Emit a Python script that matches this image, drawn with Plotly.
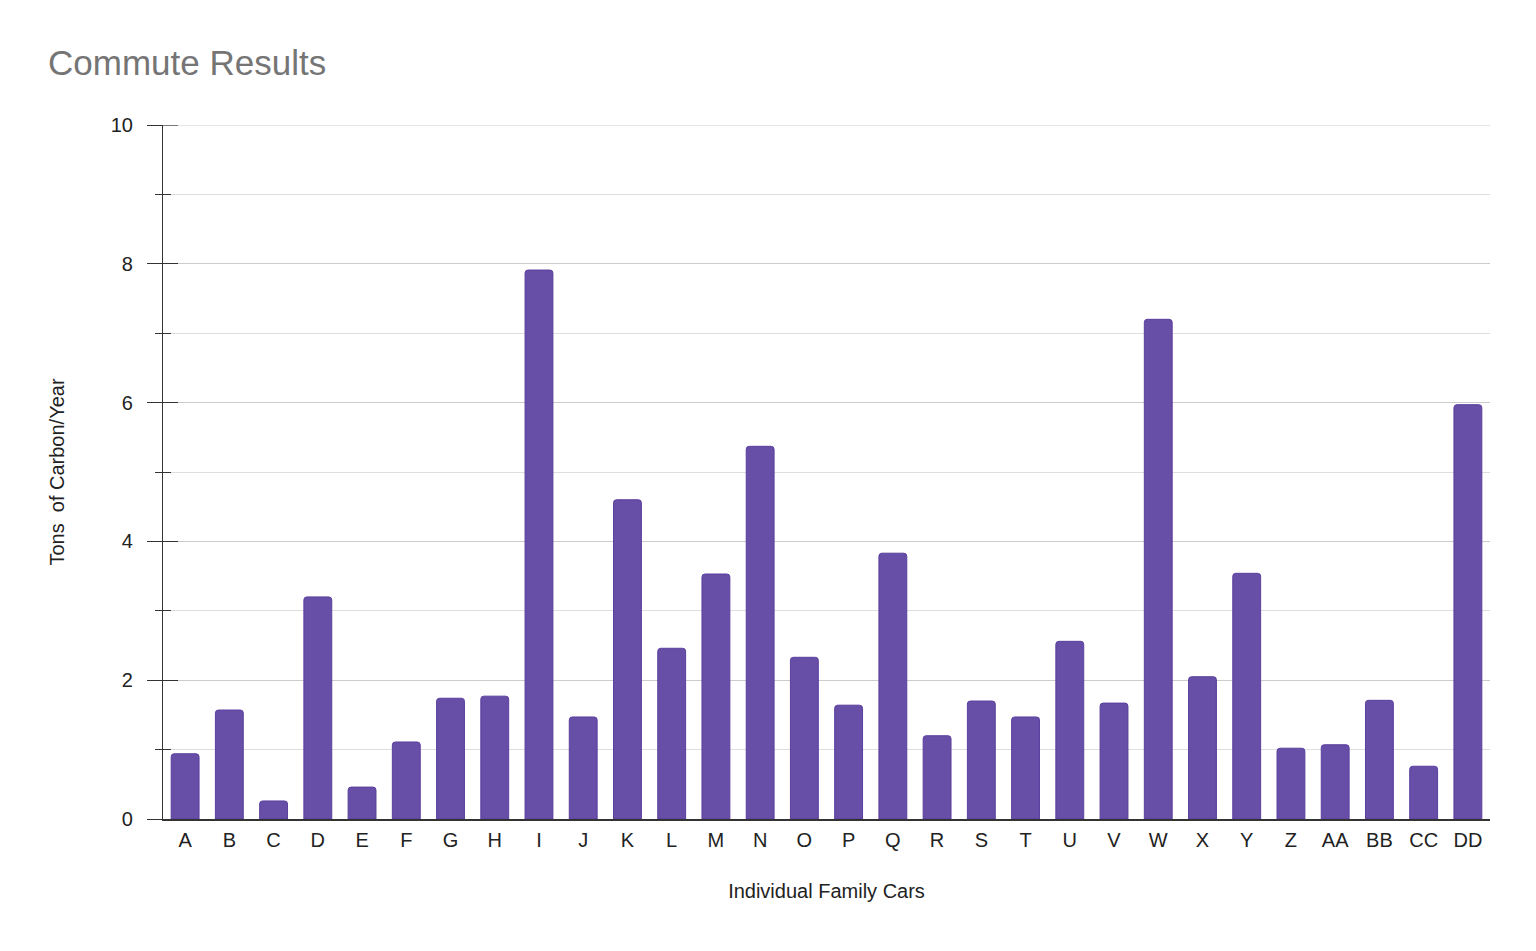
import plotly.graph_objects as go

categories = ["A","B","C","D","E","F","G","H","I","J","K","L","M","N","O","P","Q","R","S","T",
              "U","V","W","X","Y","Z","AA","BB","CC","DD"]
values = [0.94,1.57,0.26,3.20,0.46,1.11,1.74,1.77,7.91,1.47,4.60,2.46,3.53,5.37,2.33,1.64,3.83,1.20,1.70,1.47,
          2.56,1.67,7.20,2.05,3.54,1.02,1.07,1.71,0.76,5.97]
y_ticks = [0, 2, 4, 6, 8, 10]

font = "Liberation Sans, Arial, sans-serif"
fig = go.Figure()
fig.add_trace(go.Bar(x=categories, y=values,
                     marker=dict(color="#674ea7", line=dict(color="#5b3f9e", width=1), cornerradius=3),
                     hoverinfo="x+y"))
# invisible helper trace so the overlay axis (inward ticks) is drawn
fig.add_trace(go.Scatter(x=[categories[0]], y=[0], yaxis="y2", mode="lines",
                         line=dict(width=0), showlegend=False, hoverinfo="skip"))

# page has an 8px body margin, so figure is 8px smaller than the window
W, H = 1520, 935
ml, mr = 155, 38
plot_w = W - ml - mr

# gridline at the top of the range (plotly skips grid at the exact edge) and the inward top tick
fig.add_shape(type="line", xref="paper", x0=0, x1=1, yref="y", y0=y_ticks[-1], y1=y_ticks[-1],
              line=dict(color="#cccccc", width=1), layer="below")
fig.add_shape(type="line", xref="paper", x0=0, x1=15 / plot_w, yref="y", y0=y_ticks[-1], y1=y_ticks[-1],
              line=dict(color="#333333", width=1.2), layer="above")

fig.update_layout(
    width=W, height=H,
    margin=dict(l=ml, r=mr, t=117, b=124),
    paper_bgcolor="white", plot_bgcolor="white",
    showlegend=False, bargap=0.37,
    font=dict(family=font, size=20, color="#222222"),
    title=dict(text="Commute Results", x=40/W, xanchor="left", y=1-55/H, yanchor="middle",
               font=dict(family=font, size=35, color="#757575")),
    xaxis=dict(range=[-0.5, len(categories) - 0.5], showline=True, linecolor="#333333", linewidth=1.5,
               ticks="", showgrid=False,
               tickfont=dict(size=20, color="#222222"), ticklabelstandoff=2,
               title=dict(text="Individual Family Cars", standoff=34, font=dict(size=20, color="#222222"))),
    yaxis=dict(range=[0, 10], tickvals=y_ticks, showline=True, linecolor="#333333", linewidth=1.2,
               ticks="outside", ticklen=15, tickcolor="#333333", tickwidth=1.2,
               showgrid=True, gridcolor="#cccccc", gridwidth=1, zeroline=False,
               minor=dict(dtick=1, ticks="outside", ticklen=7, tickcolor="#333333", showgrid=True,
                          gridcolor="#dedede", gridwidth=1),
               tickfont=dict(size=20, color="#222222"), ticklabelstandoff=10,
               title=dict(text="Tons  of Carbon/Year", standoff=40, font=dict(size=20, color="#222222"))),
    yaxis2=dict(range=[0, 10], overlaying="y", side="left", anchor="x", tickvals=y_ticks, showticklabels=False,
                ticks="inside", ticklen=15, tickcolor="#333333", tickwidth=1.2, showgrid=False,
                zeroline=False, showline=False,
                minor=dict(dtick=1, ticks="inside", ticklen=8, tickcolor="#333333", showgrid=False)),
)
fig.write_html("out.html")
